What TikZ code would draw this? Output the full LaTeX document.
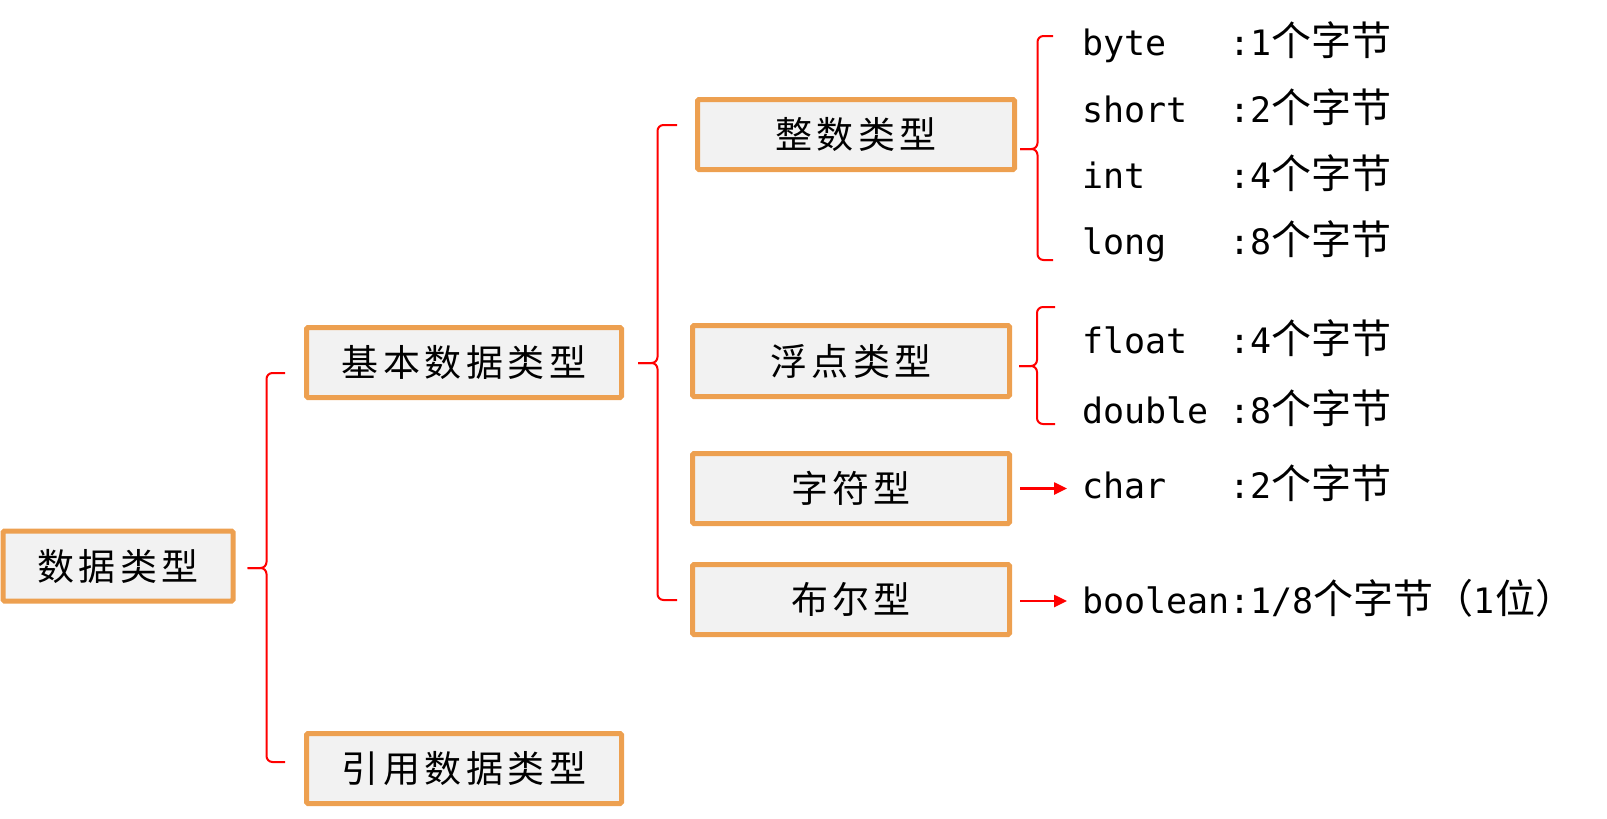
\documentclass[tikz,border=0pt]{standalone}
\usepackage{fontspec}
\usetikzlibrary{arrows.meta,calc}
\newfontfamily\cjkf{Noto Sans CJK SC}
\newfontfamily\boxf[LetterSpace=12]{Noto Sans CJK SC}
\newfontfamily\monof{DejaVu Sans Mono}
\definecolor{boxorange}{RGB}{237,160,80}
\definecolor{boxfill}{RGB}{242,242,242}
\newcommand\kname[1]{\makebox[147.5pt][l]{#1}}
\newcommand\zh[1]{{\cjkf\fontsize{40pt}{44pt}\selectfont #1}}
\begin{document}
\begin{tikzpicture}[x=1pt,y=-1pt,
  tbox/.style={draw=boxorange, line width=5pt, fill=boxfill, rounded corners=1.5pt,
    minimum height=70pt, inner sep=0pt, font=\boxf\fontsize{37pt}{40pt}\selectfont},
  brc/.style={draw=red, line width=2pt, rounded corners=6pt},
  arr/.style={draw=red, line width=2.5pt, -{Triangle[length=13pt,width=12pt]}},
  val/.style={anchor=base west, inner sep=0pt, font=\monof\fontsize{35pt}{40pt}\selectfont}
]
\useasboundingbox (0,0) rectangle (1607,819);

% boxes
\node[tbox, minimum width=230pt] (root) at (118,566) {数据类型};
\node[tbox, minimum width=315pt] (basic) at (464,362.5) {基本数据类型};
\node[tbox, minimum width=315pt] (ref) at (464,768.5) {引用数据类型};
\node[tbox, minimum width=317pt] (int) at (856,134.5) {整数类型};
\node[tbox, minimum width=317pt, minimum height=71pt] (flt) at (851,361) {浮点类型};
\node[tbox, minimum width=317pt] (chr) at (851,488.5) {字符型};
\node[tbox, minimum width=317pt] (bool) at (851,599.5) {布尔型};

% value texts
\node[val] (vbyte) at (1082,55) {\kname{byte}:1\zh{个字节}};
\node[val] (vshort) at (1082,122) {\kname{short}:2\zh{个字节}};
\node[val] (vint) at (1082,188) {\kname{int}:4\zh{个字节}};
\node[val] (vlong) at (1082,254) {\kname{long}:8\zh{个字节}};
\node[val] (vfloat) at (1082,353) {\kname{float}:4\zh{个字节}};
\node[val] (vdouble) at (1082,423) {\kname{double}:8\zh{个字节}};
\node[val] (vchar) at (1082,498) {\kname{char}:2\zh{个字节}};
\node[val] (vbool) at (1082,613) {\kname{boolean}:1/8\zh{个字节（}1\zh{位）}};

% brace 1: root -> basic, ref
\coordinate (b1tip) at ($(root.east)+(12,2)$);
\coordinate (b1m) at ($(b1tip)+(19,0)$);
\coordinate (b1top) at ($(basic.west)+(-19,10.5)$);
\coordinate (b1bot) at ($(ref.west)+(-19,-6.5)$);
\draw[brc] (b1top) -- (b1top -| b1m) -- (b1m) -- (b1tip);
\draw[brc] (b1bot) -- (b1bot -| b1m) -- (b1m) -- (b1tip);

% brace 2: basic -> int .. bool
\coordinate (b2tip) at ($(basic.east)+(14,0.5)$);
\coordinate (b2m) at ($(b2tip)+(19.5,0)$);
\coordinate (b2top) at ($(int.west)+(-18,-9.5)$);
\coordinate (b2bot) at ($(bool.west)+(-13,0.5)$);
\draw[brc] (b2top) -- (b2top -| b2m) -- (b2m) -- (b2tip);
\draw[brc] (b2bot) -- (b2bot -| b2m) -- (b2m) -- (b2tip);

% brace 3: int -> byte .. long
\coordinate (b3tip) at ($(int.east)+(3,14.5)$);
\coordinate (b3m) at ($(b3tip)+(17.5,0)$);
\coordinate (b3top) at (1053,36);
\coordinate (b3bot) at (1053,260);
\draw[brc] (b3top) -- (b3top -| b3m) -- (b3m) -- (b3tip);
\draw[brc] (b3bot) -- (b3bot -| b3m) -- (b3m) -- (b3tip);

% brace 4: flt -> float, double
\coordinate (b4tip) at ($(flt.east)+(7,5)$);
\coordinate (b4m) at ($(b4tip)+(18,0)$);
\coordinate (b4top) at (1055,307);
\coordinate (b4bot) at (1055,424);
\draw[brc] (b4top) -- (b4top -| b4m) -- (b4m) -- (b4tip);
\draw[brc] (b4bot) -- (b4bot -| b4m) -- (b4m) -- (b4tip);

% arrows
\draw[arr] ($(chr.east)+(8,0)$) -- ($(vchar.west |- chr.east)+(-15,0)$);
\draw[arr] ($(bool.east)+(8,1.5)$) -- ($(vbool.west |- bool.east)+(-15,1.5)$);
\end{tikzpicture}
\end{document}
